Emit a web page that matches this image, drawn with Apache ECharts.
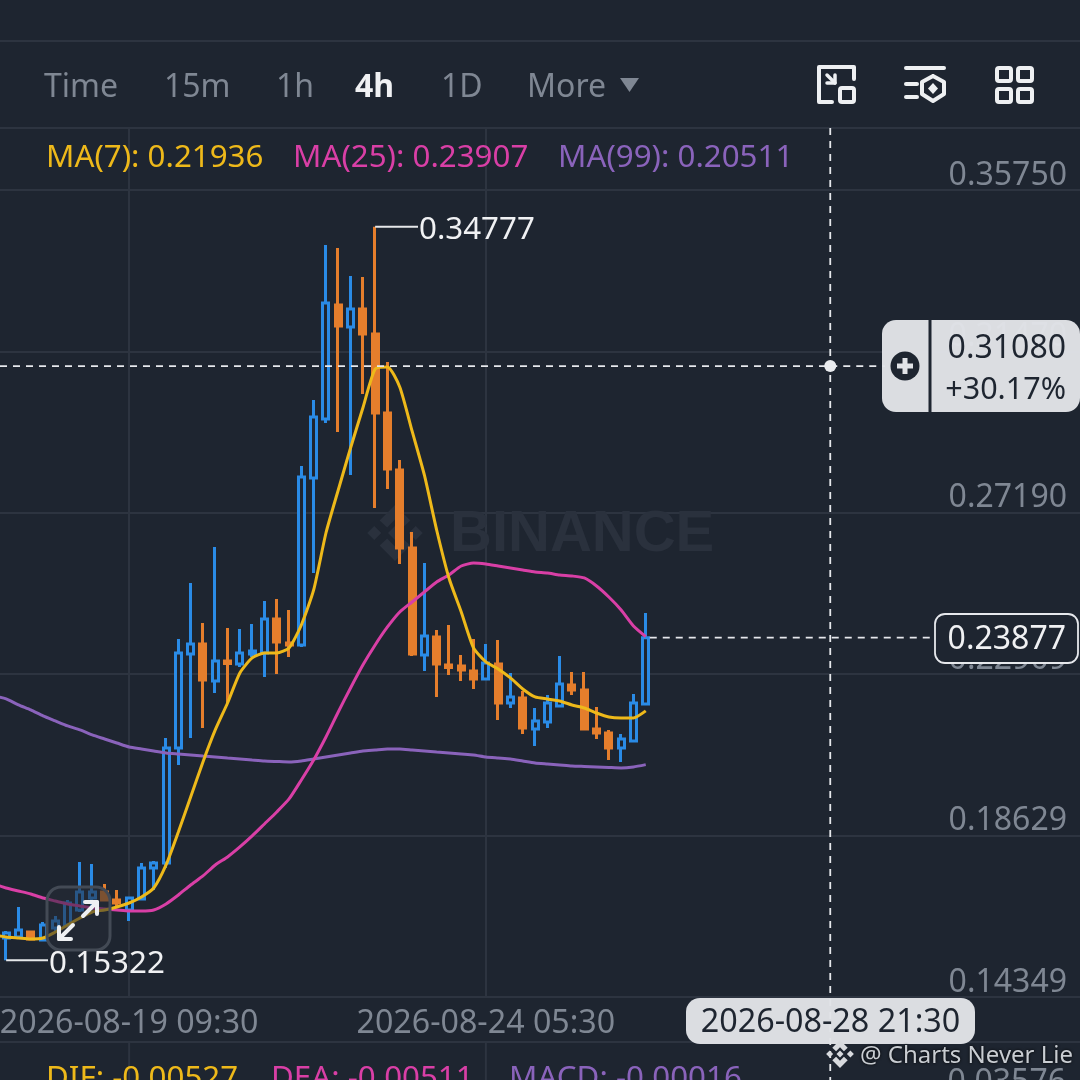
<!DOCTYPE html>
<html>
<head>
<meta charset="utf-8">
<style>html,body{margin:0;padding:0;background:#1e2530;overflow:hidden}#c{width:1080px;height:1080px}</style>
<script src="https://cdn.jsdelivr.net/npm/echarts@6/dist/echarts.min.js"></script>
</head>
<body>
<div id="c"></div>
<script>
const opens = [.1600,.15914,.15941,.16073,.15861,.16179,.16259,.16657,.16975,.17134,.16922,.16657,.16948,.17771,.17904,.20953,.23446,.23712,.22730,.23260,.23181,.23446,.23473,.24375,.23739,.23685,.28113,.29677,.32701,.32118,.32595,.31932,.29836,.28325,.26256,.23420,.23897,.23154,.23128,.22995,.22783,.23181,.22146,.22279,.21458,.21643,.22067,.22624,.22492,.21458,.21351,.20953,.21139,.22120];
const closes = [.1605,.16046,.16126,.15888,.16259,.16365,.16842,.17134,.17134,.16922,.16842,.16975,.17771,.17904,.20953,.23473,.23712,.22757,.23260,.23194,.23473,.23526,.24375,.23765,.23685,.28139,.29730,.32754,.32144,.32595,.31932,.29836,.28352,.26256,.23446,.23924,.23181,.23088,.23022,.22783,.23207,.22146,.22306,.21484,.21669,.22146,.22651,.22492,.21458,.21351,.20953,.21192,.22146,.23877];
const lows = [.1590,.15322,.15914,.15861,.15861,.16099,.16232,.16604,.16657,.16922,.16710,.16365,.16948,.17187,.17771,.20503,.21219,.21484,.22412,.22146,.23101,.23367,.22836,.22916,.23367,.23632,.25593,.29571,.29333,.28193,.30341,.27317,.27821,.25832,.23393,.22995,.22306,.22890,.22730,.22518,.22757,.21696,.22014,.21325,.21006,.21484,.22040,.22359,.21431,.21192,.20635,.20582,.21113,.22120];
const highs = [.1615,.16099,.16737,.16073,.16339,.16498,.16922,.17930,.17877,.17347,.17187,.17001,.17904,.17957,.21219,.23845,.25328,.24268,.26283,.24136,.24110,.24242,.24850,.24904,.24613,.28431,.30181,.34292,.34212,.33470,.33444,.34777,.31189,.28590,.26681,.25858,.24083,.24215,.23420,.23845,.23712,.23818,.22942,.22465,.22014,.22359,.23393,.22969,.22969,.22040,.21431,.21325,.22385,.24533];
const ma7 = [.15993,.15941,.15914,.15888,.15914,.16073,.16259,.16445,.16604,.16657,.16737,.16842,.17001,.17240,.17851,.18725,.19654,.20582,.21431,.22146,.22942,.23340,.23473,.23473,.23606,.24215,.25143,.26654,.27795,.28908,.29969,.31004,.31057,.30527,.29360,.28193,.26734,.25461,.24560,.23606,.23234,.23048,.22810,.22518,.22306,.22253,.22200,.22094,.22014,.21881,.21775,.21749,.21749,.21936];
const ma25 = [.17347,.17240,.17161,.17081,.16975,.16895,.16816,.16763,.16710,.16683,.16657,.16630,.16630,.16657,.16816,.17054,.17320,.17559,.17851,.18063,.18328,.18620,.18938,.19256,.19601,.20105,.20635,.21245,.21908,.22545,.23154,.23685,.24162,.24560,.24825,.25090,.25355,.25540,.25779,.25858,.25832,.25779,.25726,.25673,.25620,.25593,.25540,.25514,.25461,.25249,.24957,.24613,.24189,.23907];
const ma99 = [.22332,.22253,.22094,.21961,.21802,.21669,.21537,.21431,.21298,.21192,.21086,.20980,.20927,.20874,.20821,.20794,.20768,.20741,.20715,.20688,.20662,.20635,.20609,.20595,.20582,.20609,.20662,.20715,.20768,.20821,.20874,.20900,.20927,.20927,.20900,.20874,.20847,.20821,.20794,.20768,.20715,.20688,.20662,.20609,.20556,.20529,.20503,.20476,.20463,.20450,.20436,.20423,.20450,.20511];
const priceTicks = [0.14349,0.18629,0.22909,0.27190,0.31470,0.35750];
const dateTicks = ['2026-08-19 09:30','2026-08-24 05:30'];
const crossDate = '2026-08-28 21:30', crossPrice = 0.31080, lastPrice = 0.23877;
const highMark = 0.34777, highDate = '2026-08-22 17:30', lowMark = 0.15322, lowDate = '2026-08-17 17:30';

const BG='#1e2530', GRID='#2d3440', GRAY='#7f8793', UP='#2a8be6', DOWN='#e57e2c', YEL='#eeb91a', PINK='#d93fa6', PUR='#8a63bb', POP='#e1e3e7', DARK='#1e2530';
const FONT='"Noto Sans"';

const categories=[];
(function(){const p=n=>String(n).padStart(2,'0');let d=Date.UTC(2026,7,17,13,30);
for(let i=0;i<90;i++){const t=new Date(d+i*4*3600*1000);categories.push(t.getUTCFullYear()+'-'+p(t.getUTCMonth()+1)+'-'+p(t.getUTCDate())+' '+p(t.getUTCHours())+':'+p(t.getUTCMinutes()));}})();

const candles=opens.map((o,i)=>[o,closes[i],lows[i],highs[i]]);
const chart=echarts.init(document.getElementById('c'),null,{renderer:'canvas'});
const STEP=12.3;
const lineSeries=(name,data,color,z)=>({name,type:'line',data,symbol:'none',smooth:0.2,z,lineStyle:{color,width:3},silent:true,clip:false});
chart.setOption({
  backgroundColor:BG,animation:false,
  grid:{left:-STEP,top:128,width:STEP*90,height:869,containLabel:false,outerBoundsMode:'none'},
  xAxis:{type:'category',data:categories,boundaryGap:true,
    axisLine:{show:false},axisTick:{show:false,alignWithLabel:true},
    splitLine:{show:true,alignWithLabel:true,lineStyle:{color:GRID,width:2},interval:(i,v)=>dateTicks.includes(v)},
    axisLabel:{color:GRAY,fontFamily:FONT,fontSize:32.2,margin:11,interval:(i,v)=>dateTicks.includes(v),hideOverlap:false}},
  yAxis:{type:'value',position:'right',min:0.14349,max:0.37394,scale:true,
    axisLine:{show:false},
    axisTick:{show:false,customValues:priceTicks},
    splitLine:{show:true,lineStyle:{color:GRID,width:2}},
    axisLabel:{inside:true,margin:27.7,color:GRAY,fontFamily:FONT,fontSize:32,verticalAlign:'bottom',lineHeight:29,align:'right',customValues:priceTicks,formatter:v=>v.toFixed(5),showMinLabel:true,showMaxLabel:true}},
  series:[
    {type:'candlestick',data:candles,barWidth:6.5,z:3,silent:true,
      itemStyle:{color:BG,color0:DOWN,borderColor:UP,borderColor0:DOWN,borderWidth:3}},
    lineSeries('MA(99)',ma99,PUR,4),
    lineSeries('MA(25)',ma25,PINK,5),
    lineSeries('MA(7)',ma7,YEL,6)
  ]
});

const px=(cat,val)=>chart.convertToPixel({gridIndex:0},[cat,val]);
const g=[];
const T=(text,x,y,fill,size,o={})=>g.push({type:'text',z:o.z||50,style:Object.assign({text,x,y,fill,font:(o.weight?o.weight+' ':'')+size+'px '+(o.family||FONT),textAlign:o.align||'left',textVerticalAlign:'middle'},o.style||{})});
const L=(x1,y1,x2,y2,stroke,w,o={})=>g.push({type:'line',z:o.z||40,shape:{x1,y1,x2,y2},style:{stroke,lineWidth:w,lineDash:o.dash||null,opacity:o.op==null?1:o.op,lineCap:o.cap||'butt'}});
const R=(x,y,w,h,r,o)=>g.push({type:'rect',z:o.z||50,shape:{x,y,width:w,height:h,r},style:{fill:o.fill||'none',stroke:o.stroke||null,lineWidth:o.lw||0,opacity:o.op==null?1:o.op}});
const P=(pts,fill,z,op)=>g.push({type:'polygon',z,shape:{points:pts},style:{fill,opacity:op==null?1:op}});
const logo=(cx,cy,s,fill,z)=>{
  const m=a=>a.map(([x,y])=>[cx+x*s,cy+y*s]);
  const d=(x,y,r)=>P(m([[x,y-r],[x+r,y],[x,y+r],[x-r,y]]),fill,z);
  d(0,0,.25);d(-.74,0,.25);d(.74,0,.25);
  P(m([[0,-1],[.55,-.45],[.28,-.2],[0,-.48],[-.28,-.2],[-.55,-.45]]),fill,z);
  P(m([[0,1],[.55,.45],[.28,.2],[0,.48],[-.28,.2],[-.55,.45]]),fill,z);
};

L(0,41,1080,41,GRID,2,{z:1});L(0,128,1080,128,GRID,2,{z:1});L(0,1042,1080,1042,GRID,2,{z:1});
dateTicks.forEach(d=>{const p=px(d,0.2);L(p[0],1042,p[0],1080,GRID,2,{z:1});});

logo(395,533,28,'#2a313d',1);
T('BINANCE',450,535,'#2a313d',58,{z:1,weight:'bold',family:'"Liberation Sans"'});

[['Time',44],['15m',164],['1h',276],['1D',441],['More',527]].forEach(a=>T(a[0],a[1],88,'#7f8793',32));
T('4h',355,88,'#f0f1f3',32,{weight:'bold'});
P([[620,78],[639,78],[629.5,92]],'#7f8793',50);

const W='#eef0f2';
const stroke=(pathPts,lw)=>g.push({type:'polyline',z:50,shape:{points:pathPts},style:{stroke:W,lineWidth:lw||4,fill:null,lineJoin:'round',lineCap:'round'}});
stroke([[832,102],[819,102],[819,67],[854,67],[854,79]]);
R(840,88,14,14,2,{stroke:W,lw:4});
stroke([[827,75],[835,83]],3.5);stroke([[827,83],[835,83],[835,75]],3.5);
stroke([[906,68],[944,68]]);stroke([[906,84],[917,84]]);stroke([[906,97],[917,97]]);
stroke([[933,76],[944,82],[944,94],[933,101],[922,94],[922,82],[933,76]]);
P([[933,83],[938,88.5],[933,94],[928,88.5]],W,50);
[[997,68],[1018,68],[997,89],[1018,89]].forEach(a=>R(a[0],a[1],14,13,2,{stroke:W,lw:4}));

T('MA(7): 0.21936',46,158,YEL,31.3);
T('MA(25): 0.23907',293,158,PINK,31.3);
T('MA(99): 0.20511',558,158,PUR,31.3);

const hi=px(highDate,highMark), lo=px(lowDate,lowMark);
L(hi[0],hi[1],418,hi[1],'#e6e8ea',2);
T('0.34777',419,hi[1]+3,'#f0f1f3',31.3);
L(lo[0],lo[1],48,lo[1],'#e6e8ea',2);
T('0.15322',49,lo[1]+4,'#f0f1f3',31.3);

R(47,887,63,63,14,{fill:'rgba(38,44,54,0.55)',stroke:'#434a55',lw:3,z:20});
stroke([[83,916],[97,902]],4);stroke([[85,902],[97,902],[97,914]],4);
stroke([[73,925],[59,939]],4);stroke([[59,927],[59,939],[71,939]],4);

const c=px(crossDate,crossPrice), l=px(categories[53],lastPrice);
const DASH=[7,6];
L(0,c[1],c[0],c[1],'#e6e8ec',1.8,{dash:DASH,z:30});
L(c[0],c[1],885,c[1],'#e6e8ec',1.8,{dash:DASH,z:30});
L(c[0],128,c[0],1080,'#e6e8ec',1.8,{dash:DASH,z:30});
g.push({type:'circle',z:31,shape:{cx:c[0],cy:c[1],r:6},style:{fill:'#e9ebee'}});
R(882,320,198,92,14,{fill:POP,op:.97,z:45});
L(930,320,930,412,DARK,3,{z:46});
g.push({type:'circle',z:46,shape:{cx:905,cy:c[1],r:14.5},style:{fill:DARK}});
P([[902.5,358],[907.5,358],[907.5,363.5],[913,363.5],[913,368.5],[907.5,368.5],[907.5,374],[902.5,374],[902.5,368.5],[897,368.5],[897,363.5],[902.5,363.5]],POP,47);
T(crossPrice.toFixed(5),1066,349,DARK,32,{align:'right'});
T('+30.17%',1066,390,DARK,30.5,{align:'right'});

L(l[0]+4,l[1],934,l[1],'#e6e8ec',1.8,{dash:DASH,z:30});
R(935,614,143,49,10,{fill:BG,stroke:'#e6e8ec',lw:1.8,z:45});
T(lastPrice.toFixed(5),1066,640,'#f0f1f3',32,{align:'right'});

R(686,998,289,46,14,{fill:POP,op:.97,z:45});
T(crossDate,830.5,1023,DARK,32.3,{align:'center'});

logo(840,1054,14,'#d8dade',55);
T('@ Charts Never Lie',860,1056,'#c9cdd2',24,{z:55,style:{textShadowColor:'#000',textShadowBlur:3}});

T('DIF: -0.00527',46,1079,YEL,31.3);
T('DEA: -0.00511',271,1079,PINK,31.3);
T('MACD: -0.00016',509,1079,PUR,31.3);
T('0.03576',1066,1083,GRAY,32,{align:'right'});

chart.setOption({graphic:{elements:g}});
</script>
</body>
</html>
